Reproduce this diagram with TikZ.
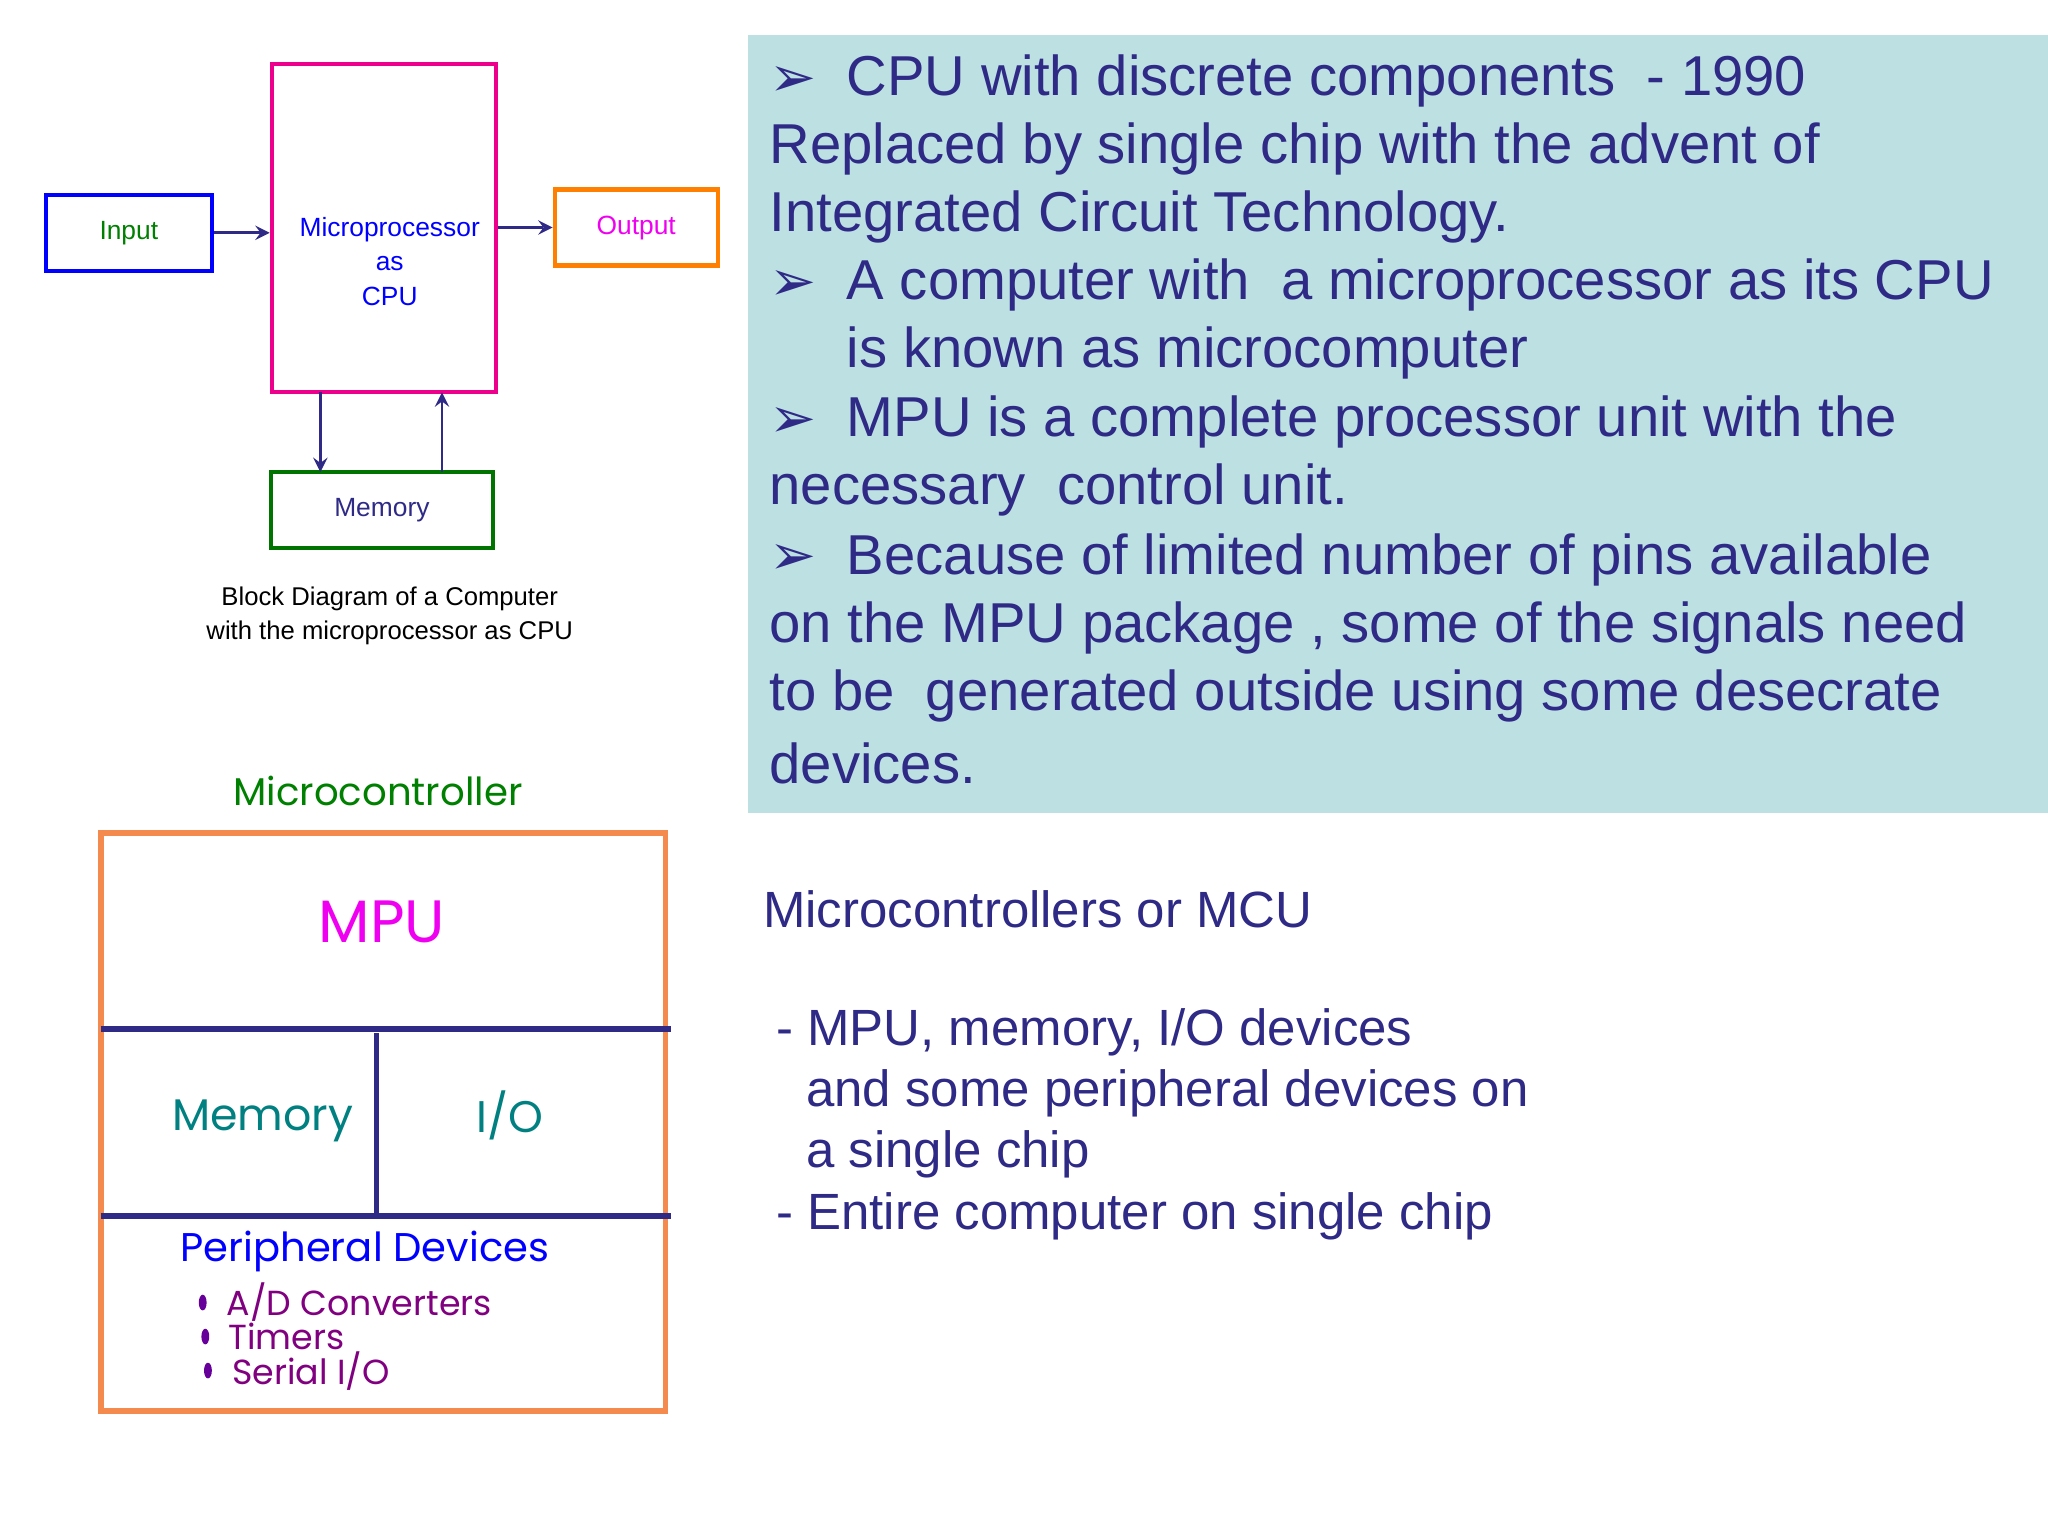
\documentclass[tikz,border=0pt]{standalone}
\usepackage{fontspec}
\setmainfont{Liberation Sans}
\newfontfamily\geo{Poppins}
\newfontfamily\dv{DejaVu Sans}
\definecolor{navy}{HTML}{2E2A86}
\definecolor{teal}{HTML}{BDE0E3}
\definecolor{orng}{HTML}{F58A4E}
\definecolor{dgreen}{HTML}{008000}
\definecolor{mag}{HTML}{F000F0}
\definecolor{purp}{HTML}{800080}
\definecolor{tealtxt}{HTML}{008080}
\begin{document}
\begin{tikzpicture}[x=0.01308cm,y=-0.01308cm,
  blk/.style={draw,line width=1.2pt,minimum height=0.76cm,font=\fontsize{7.5}{9}\selectfont},
  arr/.style={->,>=stealth,navy,line width=0.8pt},
  txt/.style={anchor=west,inner sep=0pt,navy,font=\fontsize{16}{19}\selectfont},
  low/.style={anchor=west,inner sep=0pt,navy,font=\fontsize{14.5}{17}\selectfont},
  itm/.style={anchor=west,inner sep=0pt,purp,font=\geo\fontsize{9.9}{11}\selectfont}]
\useasboundingbox (0,0) rectangle (1566,1175);
% block diagram
\node[blk,draw=blue,minimum width=1.66cm,text=dgreen] (in) at (98.5,178) {Input};
\node[blk,draw=magenta,minimum width=2.24cm,minimum height=3.28cm] (cpu) at (293.5,174.5) {};
\node[text=blue,align=center,font=\fontsize{7.5}{9.8}\selectfont] (cput) at (298,200) {Microprocessor\\as\\CPU};
\node[blk,draw=orange,minimum width=1.63cm,text=mag] (out) at (486.5,174) {Output};
\node[blk,draw=dgreen!90!black,minimum width=2.22cm,text=navy] (mem) at (292,390) {Memory};
\coordinate (c1) at (245,300); \coordinate (m1) at (245,361);
\coordinate (c2) at (338,300); \coordinate (m2) at (338,361);
\draw[arr] (in.east) -- (cpu.west|-in.east);
\draw[arr] (cpu.east|-out.west) -- (out.west);
\draw[arr] (c1) -- (m1);
\draw[arr] (m2) -- (c2);
\node[align=center,font=\fontsize{7.3}{9.6}\selectfont] (cap) at (298,471) {Block Diagram of a Computer\\with the microprocessor as CPU};
% microcontroller
\node[dgreen,font=\geo\fontsize{11}{13}\selectfont] (mct) at (289,605) {Microcontroller};
\draw[orng,line width=1.6pt] (77,637) rectangle (509,1079);
\coordinate (l1a) at (77,787); \coordinate (l1b) at (513,787);
\coordinate (l2a) at (77,930); \coordinate (l2b) at (513,930);
\coordinate (va) at (288,790); \coordinate (vb) at (288,930);
\draw[navy,line width=1.6pt] (l1a) -- (l1b) (l2a) -- (l2b) (va) -- (vb);
\node[mag,font=\geo\fontsize{17}{20}\selectfont] (mpu) at (292,705) {MPU};
\node[text=tealtxt,font=\geo\fontsize{12.6}{15}\selectfont] (memt) at (201,857) {Memory};
\node[text=tealtxt,font=\geo\fontsize{12.6}{15}\selectfont] (io) at (390,853) {I/O};
\node[blue,font=\geo\fontsize{11.4}{13}\selectfont] (per) at (279,957) {Peripheral Devices};
\fill[purp!80!blue] (155,996) ellipse (3 and 6) (157,1022) ellipse (3 and 6) (159,1048) ellipse (3 and 6);
\node[itm] (i1) at (173,996) {A/D Converters};
\node[itm] (i2) at (174,1022) {Timers};
\node[itm] (i3) at (177,1048) {Serial I/O};
% right text
\fill[teal] (572,27) rectangle (1566,622);
\node[txt] (a1) at (588,62) {{\dv ➢}};
\node[txt] (t1) at (647,62) {CPU with discrete components\ \ - 1990};
\node[txt] (t2) at (588,114) {Replaced by single chip with the advent of};
\node[txt] (t3) at (588,166) {Integrated Circuit Technology.};
\node[txt] (a2) at (588,218) {{\dv ➢}};
\node[txt] (t4) at (647,218) {A computer with\ \ a microprocessor as its CPU};
\node[txt] (t5) at (647,270) {is known as microcomputer};
\node[txt] (a3) at (588,323) {{\dv ➢}};
\node[txt] (t6) at (647,323) {MPU is a complete processor unit with the};
\node[txt] (t7) at (588,375) {necessary\ \ control unit.};
\node[txt] (a4) at (588,428) {{\dv ➢}};
\node[txt] (t8) at (647,428) {Because of limited number of pins available};
\node[txt] (t9) at (588,480) {on the MPU package , some of the signals need};
\node[txt] (t10) at (588,532) {to be\ \ generated outside using some desecrate};
\node[txt] (t11) at (588,584) {devices.};
\node[low] (u1) at (583,695) {Microcontrollers or MCU};
\node[low] (u2) at (593,789) {- MPU, memory, I/O devices};
\node[low] (u3) at (616,836) {and some peripheral devices on};
\node[low] (u4) at (616,883) {a single chip};
\node[low] (u5) at (593,930) {- Entire computer on single chip};
\end{tikzpicture}
\end{document}
